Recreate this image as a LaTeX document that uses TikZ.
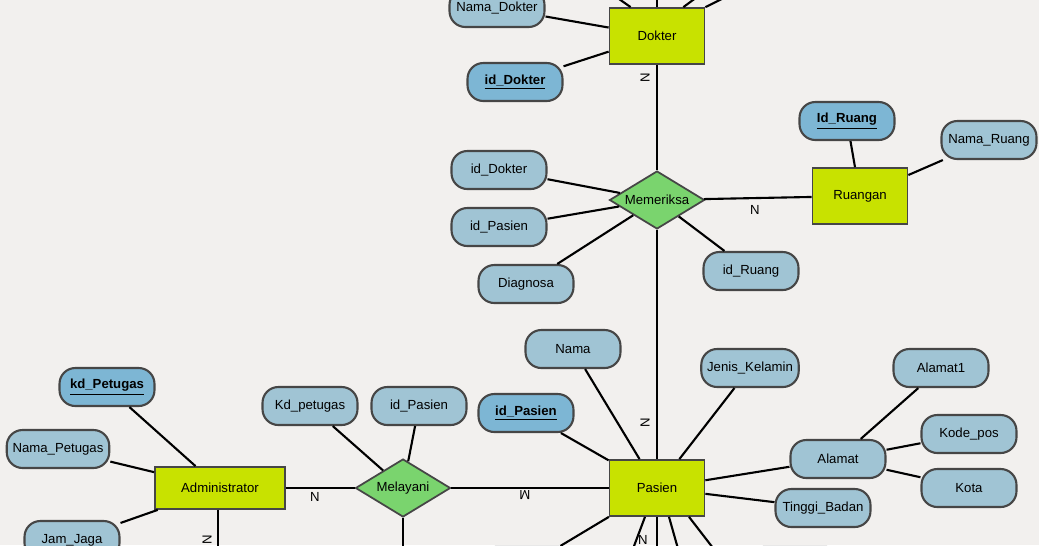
\documentclass[tikz,border=0pt]{standalone}
\usepackage{fontspec}
\setmainfont{Liberation Sans}
\usetikzlibrary{shapes.geometric}
\definecolor{bgc}{RGB}{242,240,238}
\definecolor{attrc}{RGB}{125,182,212}
\definecolor{attrg}{RGB}{160,196,212}
\definecolor{entc}{RGB}{200,226,0}
\definecolor{relc}{RGB}{122,212,110}
\definecolor{edgec}{RGB}{70,70,70}
\tikzset{
  attr/.style={draw=edgec, line width=1.2pt, fill=attrg, rounded corners=9pt, minimum width=1.9cm, minimum height=0.76cm, font=\fontsize{7.5}{9}\selectfont},
  keyattr/.style={attr, fill=attrc, font=\fontsize{7.5}{9}\selectfont\bfseries},
  entity/.style={draw=edgec, line width=1pt, fill=entc, minimum width=1.9cm, minimum height=1.12cm, font=\fontsize{7.5}{9}\selectfont},
  rel/.style={draw=edgec, line width=1pt, fill=relc, diamond, aspect=1.64, minimum width=1.9cm, minimum height=1.16cm, inner sep=0pt, font=\fontsize{7.5}{9}\selectfont},
  link/.style={line width=1.2pt, black},
  card/.style={font=\fontsize{7.5}{9}\selectfont}
}
\begin{document}
\begin{tikzpicture}[x=0.02cm, y=-0.02cm]
\fill[bgc] (0,0) rectangle (1039,545);
\clip (0,0) rectangle (1039,545);
\useasboundingbox (0,0) rectangle (1039,545);

% Dokter
\node[entity] (dokter) at (657,36) {Dokter};
\node[attr] (namadokter) at (497,8) {Nama\_Dokter};
\node[keyattr] (iddokter) at (515,82) {\underline{id\_Dokter}};
\coordinate (dk1) at (592,-20);
\coordinate (dk2) at (657,-20);
\coordinate (dk3) at (720,-20);
\coordinate (dk4) at (760,-20);
\draw[link] (namadokter) -- (dokter);
\draw[link] (iddokter) -- (dokter);
\draw[link] (dokter.north west) ++(22,0) -- (dk1);
\draw[link] (dokter.north) -- (dk2);
\draw[link] (dokter.north east) ++(-22,0) -- (dk3);
\draw[link] (dokter.north east) -- (dk4);

% Memeriksa
\node[rel] (memeriksa) at (657,200) {Memeriksa};
\node[attr] (mdokter) at (499,170) {id\_Dokter};
\node[attr] (mpasien) at (499,227) {id\_Pasien};
\node[attr] (diagnosa) at (526,284) {Diagnosa};
\node[attr] (mruang) at (751,271) {id\_Ruang};
\node[entity] (ruangan) at (860,196) {Ruangan};
\node[keyattr] (idruang) at (847,121) {\underline{Id\_Ruang}};
\node[attr] (namaruang) at (989,140) {Nama\_Ruang};
\draw[link] (dokter) -- (memeriksa);
\draw[link] (mdokter) -- (memeriksa);
\draw[link] (mpasien) -- (memeriksa);
\draw[link] (diagnosa) -- (memeriksa);
\draw[link] (mruang) -- (memeriksa);
\draw[link] (memeriksa) -- (ruangan);
\draw[link] (idruang) -- (ruangan);
\draw[link] (namaruang) -- (ruangan);
\node[card, rotate=90] (n1) at (645,78) {N};
\node[card] (n2) at (755,210) {N};

% Pasien
\node[entity] (pasien) at (657,488) {Pasien};
\node[attr] (nama) at (573,349) {Nama};
\node[attr] (jenis) at (750,368) {Jenis\_Kelamin};
\node[keyattr] (idpasien) at (526,413) {\underline{id\_Pasien}};
\node[attr] (alamat) at (838,459) {Alamat};
\node[attr] (alamat1) at (941,368) {Alamat1};
\node[attr] (kodepos) at (969,434) {Kode\_pos};
\node[attr] (kota) at (969,488) {Kota};
\node[attr] (tinggi) at (823,508) {Tinggi\_Badan};
\node[attr] (pb1) at (527,566) {};
\node[attr] (pb2) at (795,566) {};
\coordinate (pc1) at (625,570);
\coordinate (pc2) at (657,570);
\coordinate (pc3) at (684,570);
\coordinate (pc4) at (730,570);
\draw[link] (memeriksa) -- (pasien);
\draw[link] (nama) -- (pasien);
\draw[link] (jenis) -- (pasien);
\draw[link] (idpasien) -- (pasien);
\draw[link] (alamat) -- (pasien);
\draw[link] (alamat1) -- (alamat);
\draw[link] (kodepos) -- (alamat);
\draw[link] (kota) -- (alamat);
\draw[link] (tinggi) -- (pasien);
\draw[link] (pasien) -- (pb1);
\draw[link] (pasien.south) ++(-12,0) -- (pc1);
\draw[link] (pasien.south) -- (pc2);
\draw[link] (pasien.south) ++(12,0) -- (pc3);
\draw[link] (pasien.south) ++(32,0) -- (pc4);
\node[card, rotate=90] (n3) at (645,423) {N};
\node[card] (n4) at (643,540) {N};

% Melayani
\node[rel] (melayani) at (403,488) {Melayani};
\node[attr] (kdpetugas) at (310,406) {Kd\_petugas};
\node[attr] (lpasien) at (419,406) {id\_Pasien};
\coordinate (lb) at (403,570);
\draw[link] (melayani) -- (pasien);
\draw[link] (kdpetugas) -- (melayani);
\draw[link] (lpasien) -- (melayani);
\draw[link] (melayani) -- (lb);
\node[card, rotate=180] (m1) at (525,495) {M};

% Administrator
\node[entity, minimum width=2.6cm, minimum height=0.84cm] (admin) at (220,488) {Administrator};
\node[keyattr] (kdp) at (107,387) {\underline{kd\_Petugas}};
\node[attr] (namapetugas) at (58,449) {Nama\_Petugas};
\node[attr] (jamjaga) at (72,540) {Jam\_Jaga};
\coordinate (ab) at (218,570);
\draw[link] (admin) -- (melayani);
\draw[link] (kdp) -- (admin);
\draw[link] (namapetugas) -- (admin);
\draw[link] (jamjaga) -- (admin);
\draw[link] (admin.south) ++(-2,0) -- (ab);
\node[card] (n5) at (315,497) {N};
\node[card, rotate=90] (n6) at (207,540) {N};
\end{tikzpicture}
\end{document}
